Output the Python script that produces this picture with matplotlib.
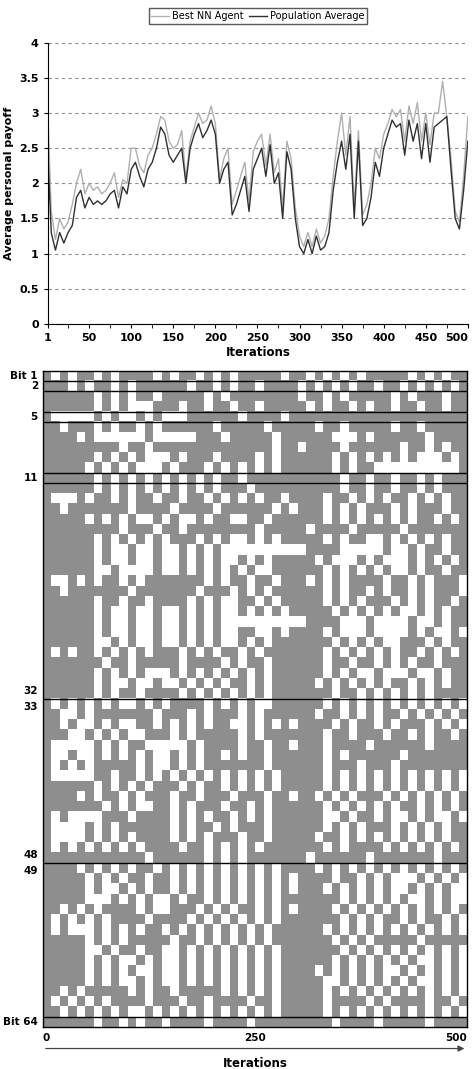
import matplotlib
matplotlib.use("Agg")
import matplotlib.pyplot as plt
import numpy as np
from matplotlib.colors import ListedColormap

iters = [1, 5, 10, 15, 20, 25, 30, 35, 40, 45, 50, 55, 60, 65, 70, 75, 80, 85, 90, 95, 100,
         105, 110, 115, 120, 125, 130, 135, 140, 145, 150, 155, 160, 165, 170, 175, 180, 185, 190, 195, 200,
         205, 210, 215, 220, 225, 230, 235, 240, 245, 250, 255, 260, 265, 270, 275, 280, 285, 290, 295, 300,
         305, 310, 315, 320, 325, 330, 335, 340, 345, 350, 355, 360, 365, 370, 375, 380, 385, 390, 395, 400,
         405, 410, 415, 420, 425, 430, 435, 440, 445, 450, 455, 460, 465, 470, 475, 480, 485, 490, 495, 500]
pop_avg = [2.4, 1.3, 1.05, 1.3, 1.15, 1.3, 1.4, 1.8, 1.9, 1.65, 1.8, 1.7, 1.75, 1.7, 1.75, 1.85, 1.9, 1.65, 1.95, 1.85, 2.2,
           2.3, 2.1, 1.95, 2.2, 2.3, 2.5, 2.8, 2.7, 2.4, 2.3, 2.4, 2.5, 2.0, 2.5, 2.7, 2.85, 2.65, 2.75, 2.9, 2.7,
           2.0, 2.2, 2.3, 1.55, 1.7, 1.9, 2.1, 1.6, 2.2, 2.35, 2.5, 2.1, 2.55, 2.0, 2.15, 1.5, 2.45, 2.2, 1.5, 1.1,
           1.0, 1.2, 1.0, 1.25, 1.05, 1.1, 1.3, 1.9, 2.3, 2.6, 2.2, 2.7, 1.5, 2.6, 1.4, 1.5, 1.8, 2.3, 2.1, 2.5,
           2.7, 2.9, 2.8, 2.85, 2.4, 2.9, 2.6, 2.85, 2.35, 2.85, 2.3, 2.8, 2.85, 2.9, 2.95, 2.2, 1.5, 1.35, 1.9, 2.6]
best_nn = [3.0, 1.6, 1.2, 1.5, 1.35, 1.45, 1.7, 2.0, 2.2, 1.85, 2.0, 1.9, 1.95, 1.85, 1.9, 2.0, 2.15, 1.8, 2.05, 2.0, 2.5,
           2.5, 2.25, 2.15, 2.4, 2.5, 2.7, 2.95, 2.9, 2.6, 2.5, 2.55, 2.75, 2.05, 2.6, 2.8, 3.0, 2.85, 2.9, 3.1, 2.85,
           2.05, 2.35, 2.5, 1.7, 1.9, 2.1, 2.3, 1.75, 2.45, 2.6, 2.7, 2.25, 2.7, 2.15, 2.35, 1.65, 2.6, 2.35, 1.65, 1.25,
           1.1, 1.3, 1.1, 1.35, 1.15, 1.25, 1.5, 2.1, 2.6, 3.0, 2.4, 2.95, 1.65, 2.75, 1.55, 1.7, 2.0, 2.5, 2.35, 2.7,
           2.85, 3.05, 2.95, 3.05, 2.6, 3.1, 2.85, 3.15, 2.6, 3.0, 2.55, 3.0, 3.0, 3.45, 2.95, 2.35, 1.6, 1.45, 2.1, 2.95]

# 64 bits, each row: 50 bins of 10 iterations ('#' = bit set / gray)
bits = [
 "#.#.##.#.####.#.##.#.#.#####.##.#.#.#.#####.#.#.##",
 "###.#.##.#.######.##.#.##.####.#.#.#.##.##.#.#.#.#",
 "######.#.#.##.#####.#.########.##.#.#####.#.###.##",
 "######.#.#...###.##.##.##.#####.#.##.#.##.##.##.##",
 "#.....#.#..#.#...######.####.#####################",
 "##.###.#.##.#.######.#####.#####.##.#####.##.#####",
 "####.#......#.....###.#####.######...#.######.####",
 "#########.##.##############.##.####.######.##.#.##",
 "######.#.#.#...#.###.####.#.######.#.#.#.#.#...#.#",
 "#####.#.#.#...#.###.#.#.#.#.######.#.##..........#",
 "######.#.#.#.#.#.#.#.##.###########.##.##.##.#.###",
 "######.#.#.#.#.#.#.#.###.##########.##.##.##.#.###",
 "#...#.##.#.##.##.##.#.#.#.##.####.##.#.#.##.#.#.##",
 "##.#######.####.####.######.#.###.#.#.###.#.###.##",
 "#####.#.#.#..#.#..#.##..##.######.#.#.#.#.#.##.#.#",
 "#########.###.##.########.#####.####.#####.#######",
 "######.#.#.#.#.###.#.#..#.#.#####.#.##..#.#.#.#.##",
 "######.#..#..#..#.#.#..........####.....#..#.##.##",
 "######.#..#..#..#.#.#..#.#.#####.#...#.#...#.#.#.#",
 "######..#....#..#.#.#.#.#..######.#.#.#.#..#.##.##",
 "#..#.#.##.#.#######.#.##.##.###.#.#.####.##.#.###.",
 "##.#######.#######.###.#.#.######.#.##.#.##.#.###.",
 "######.##.##.####.#.#..##.#.#####.#.#.###.#.#.##.#",
 "######.#..#..#..#.#.#..#.#.#.#####.#.#.#.#..#.#.##",
 "######.#..#..#..#.#.#..........####...#....#..#.##",
 "######.#..#..#..#.#.#..##..#.####.#...#....#.#..#.",
 "######..#.#..#..#.#.#..#.#.#######.#.#.#..###.#.##",
 "#.#.##.#.#.#.###.#.#.##.#.#######.#.#.#.#.##.#.#.#",
 "#######.##.#####.####.#.##.######.##.##.#.#.##.###",
 "######.#.#.#...#.#.#.#.#.#.######.#.#..#...#..#.##",
 "######.#..#..#..#.#.#.##.#.#####.#.#.#.#.##.#.#.##",
 "######.#.##.####.#.#.#.#.#.#######.##.#.#.#.#.####",
 "#.#.#.#.#..#.#.####.#.#.#..######.#.#.#.#.#.#.#.#.",
 "##..#.#######.###.#.###.#.######.##.#.#.##.#.#.#.#",
 "##.#..#.#..##.#.#.#.##..#.#.#.####.#.##.#.###.#.#.",
 "###..#.#.#..###.#.#####.#.#######.##.###.##.#.##.#",
 "#.....#.#.##.....#.####.##.##.###.####.######.####",
 "#..#..#.#.#.#..#.#.##.#.##.######.#.######.#######",
 "#.#.#.#####.#..#.#.#######.######.###.###.########",
 "#.....##.##.#.#.#.#.#.#.#.#.#####.#.#.#.#.#.#.#.#.",
 "######.#.#.#.###.#.##.#.#.#.#####.#.#.#.#.#.#.#.#.",
 "####.#.##.#.###.##.###.###.##.##.#.#.###.#.#.#.#.#",
 "#######.#.#..##.#.###.##.#.######.#.#.#.#.##.#.#.#",
 "#.#....###.####.#.#.##.#.#.######..#.##.#..#.#..#.",
 "#....#.#.######.#.##.#.###.######.#.#.###.#.#.#.##",
 "#....#.#.#.####.#.#.###.##.#####.##.#.#.#.#.#.#.##",
 "#.#.#.#.#.#.####.##.#.#.#.#######.#.####.#.#.#.#.#",
 "############.######.#.#.#######.######.#######.###",
 "####.#.#.#.##.#.#.#.#.#.#.#.####.#.#.#.#.#.#.#.#.#",
 "#####.#.#.##.##.#.#.#.#.#.#.#.####.##.#.#...#.#.#.",
 "#####.#..#.#.##.#.#.#.#.#.#.#.###.#.#.#.#..#.#.#..",
 "#####...#.#.#..#.##.#.#.#.#.#######.#.#.#.#..#.#..",
 "##.#.#.####.#..###.#.#.##.#.#.####.#.#.#.#.#.#.#.#",
 "#.#.#.#.####.####.#.#.#.#.#.#######.#.#.##.#.##.#.",
 "#.#...#.#.#.##.#.#.#.#.#.#.######.#.#.#.#.#.#.#.#.",
 "#####.#.#.#####.##.#.#.#.#.#######.#.#.#####.#####",
 "#####..#.##.##..#.#.#.#.#.#.#######.#.#.#.#.#.#.#.",
 "#####.#.#..#.#..#.#.#.#.#.#.######.#.#.#.#.#..#.#.",
 "#####.#.#.#..#..#.#.#.#.#.#.####.#.#.#.#..#.#.#.#.",
 "#####.#.#..#.#..#.#.#.#.#.#.#####..#.#.#.#.#..#.#.",
 "##.#.#####.#.##.#####.#.#.#.#####.#.#.#.#.#.#.#.#.",
 "#.#.#.#.####.###.##.####.##.#####.####.#.####.##.#",
 "##.#.#.#.#..#.#.#.#.#.#.#.#.#####.#.#.#.#.#.#.#.#.",
 "######.##.#.##.####.####.#########.####.#####.####",
]
row_labels = {1: "Bit 1", 2: "2", 5: "5", 11: "11", 32: "32", 33: "33", 48: "48", 49: "49", 64: "Bit 64"}
separators = [1, 2, 4, 5, 10, 11, 32, 48, 63]

fig = plt.figure(figsize=(4.74, 10.69), dpi=100)
ax = fig.add_axes([0.101, 0.697, 0.886, 0.263])
ax.plot(iters, best_nn, color="#b0b0b0", lw=1.0, label="Best NN Agent")
ax.plot(iters, pop_avg, color="#303030", lw=1.0, label="Population Average")
ax.set_xlim(1, 500)
ax.set_ylim(0, 4)
ax.set_yticks([0, 0.5, 1, 1.5, 2, 2.5, 3, 3.5, 4])
ax.set_yticklabels(["0", "0.5", "1", "1.5", "2", "2.5", "3", "3.5", "4"])
ax.set_xticks([1, 50, 100, 150, 200, 250, 300, 350, 400, 450, 500])
ax.set_xticks(range(25, 500, 50), minor=True)
ax.tick_params(labelsize=8, direction="out", length=3)
ax.tick_params(which="minor", length=3)
for lbl in ax.get_xticklabels() + ax.get_yticklabels():
    lbl.set_fontweight("bold")
ax.get_xticklabels()[-1].set_horizontalalignment("right")
ax.yaxis.grid(True, linestyle=(0, (3, 3)), color="#909090", lw=0.8)
ax.set_axisbelow(True)
for s in ["top", "right"]:
    ax.spines[s].set_visible(False)
ax.set_xlabel("Iterations", fontsize=8.5, fontweight="bold", labelpad=2)
ax.set_ylabel("Average personal payoff", fontsize=8, fontweight="bold")
leg = ax.legend(loc="lower center", bbox_to_anchor=(0.5, 1.05), ncol=2, fontsize=7,
                frameon=True, fancybox=False, edgecolor="#303030", handlelength=1.8,
                columnspacing=0.6, handletextpad=0.3, borderpad=0.3)

bx = fig.add_axes([0.0907, 0.0393, 0.895, 0.614])
mat = np.array([[1 if c == "#" else 0 for c in r] for r in bits])
bx.imshow(mat, cmap=ListedColormap(["white", "#8e8e8e"]), aspect="auto",
          interpolation="nearest", extent=[0, 500, 64.5, 0.5])
for s in separators:
    bx.axhline(s + 0.5, color="black", lw=1.0)
bx.set_xlim(0, 500)
bx.set_ylim(64.5, 0.5)
bx.set_xticks([])
bx.set_yticks([])
for sp in bx.spines.values():
    sp.set_linewidth(1.0)
for r, t in row_labels.items():
    off = -0.3 if r in (32, 48) else (0.3 if r in (33, 49) else 0)
    bx.text(-6, r + off, t, ha="right", va="center", fontsize=7.5, fontweight="bold")
bx.annotate("", xy=(500, 66.6), xytext=(0, 66.6), xycoords="data",
            arrowprops=dict(arrowstyle="-|>", color="#444444", lw=0.9, mutation_scale=9),
            annotation_clip=False)
for v, ha in [(0, "left"), (250, "center"), (500, "right")]:
    bx.text(v, 65.6, str(v), ha=ha, va="center", fontsize=7.5, fontweight="bold", clip_on=False)
bx.text(250, 68.1, "Iterations", ha="center", va="center", fontsize=8.5, fontweight="bold", clip_on=False)

fig.savefig("out.png", dpi=100)
